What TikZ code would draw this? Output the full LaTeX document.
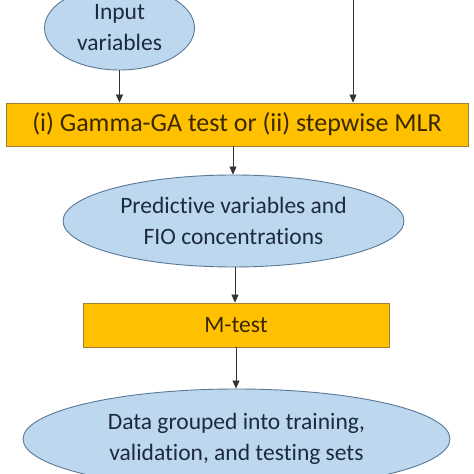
\documentclass[tikz,border=0pt]{standalone}
\usepackage{fontspec}
\setmainfont{Carlito}[Ligatures={NoCommon,NoRare,NoContextual}]
\usetikzlibrary{shapes.geometric,arrows.meta}
\definecolor{ellfill}{HTML}{BDD7EE}
\definecolor{elldraw}{HTML}{5A7898}
\definecolor{elltext}{HTML}{1C2A40}
\definecolor{boxfill}{HTML}{FFC000}
\definecolor{boxdraw}{HTML}{A08030}
\definecolor{boxtext}{HTML}{3A2800}
\tikzset{
  ell/.style={ellipse, draw=elldraw, fill=ellfill, line width=0.9pt, inner sep=0pt,
    text=elltext, align=center, font=\fontsize{23.5}{31}\selectfont},
  procbox/.style={rectangle, draw=boxdraw, fill=boxfill, line width=0.9pt, inner sep=0pt,
    text=boxtext, align=center, font=\fontsize{23.5}{31}\selectfont},
  arr/.style={draw=black!80, line width=0.8pt, -{Triangle[length=8pt,width=7pt]}}
}
\begin{document}
\begin{tikzpicture}[x=1pt,y=1pt]
\useasboundingbox (0,0) rectangle (474,474);
\clip (0,0) rectangle (474,474);
\node[ell, minimum width=150pt, minimum height=84pt] (in) at (119.5,446) {Input\\variables};
\coordinate (top) at (353,480);
\node[procbox, minimum width=462pt, minimum height=43pt, font=\fontsize{26}{31}\selectfont] (ga) at (237,349.5) {(i) Gamma-GA test or (ii) stepwise MLR};
\node[ell, minimum width=341pt, minimum height=92pt] (pv) at (233.5,253) {Predictive variables and\\FIO concentrations};
\node[procbox, minimum width=306pt, minimum height=44pt] (mt) at (236,149) {M-test};
\node[ell, minimum width=427pt, minimum height=100pt] (dg) at (236.5,35) {Data grouped into training,\\validation, and testing sets};
\draw[arr] (in.south) -- (in.south |- ga.north);
\draw[arr] (top) -- (top |- ga.north);
\draw[arr] (233,0 |- ga.south) -- (233,0 |- pv.north);
\draw[arr] (235,0 |- pv.south) -- (235,0 |- mt.north);
\draw[arr] (236,0 |- mt.south) -- (236,0 |- dg.north);
\end{tikzpicture}
\end{document}
